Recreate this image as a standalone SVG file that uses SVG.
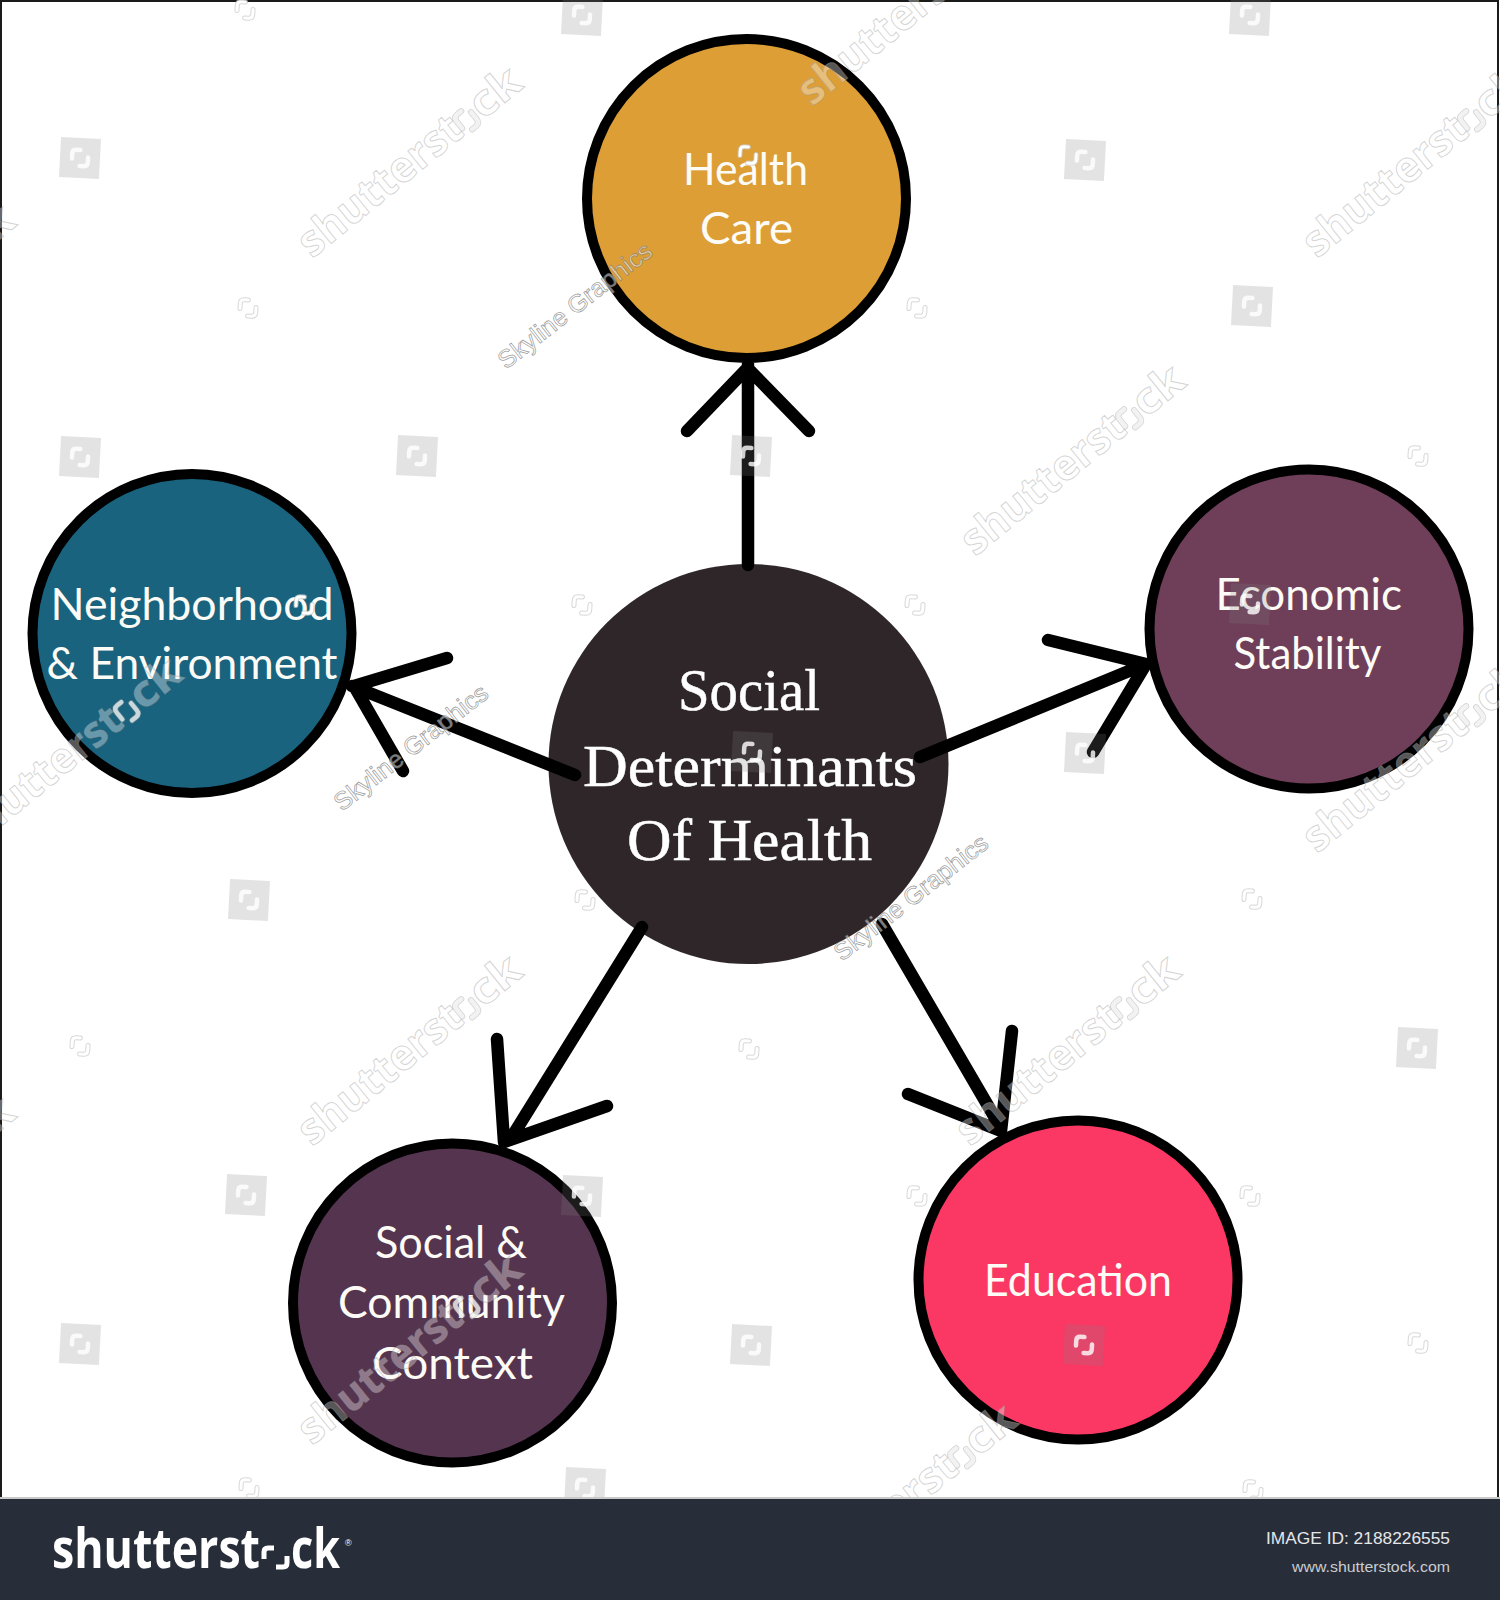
<svg xmlns="http://www.w3.org/2000/svg" width="1500" height="1600" viewBox="0 0 1500 1600">
<style>
.ring{stroke:#000;stroke-width:10}
.lbl{font-family:Lato,"Noto Sans","Liberation Sans",sans-serif;font-size:45px;fill:#fdfbf6;text-anchor:start}
.ctr{font-family:"Liberation Serif","Times New Roman",serif;font-size:60px;fill:#fff;text-anchor:start;stroke:#fff;stroke-width:.5}
.cn{fill:none;stroke:#000;stroke-width:12.5;stroke-linecap:round;stroke-linejoin:round}
.wm{font-family:"Open Sans","Liberation Sans",sans-serif;font-weight:700;font-size:43px;fill:#fff;fill-opacity:.34;stroke:#999;stroke-opacity:.42;stroke-width:1}
.wm2{font-family:"Liberation Sans",sans-serif;font-size:25px;fill:#fff;fill-opacity:.5;stroke:#777;stroke-opacity:.7;stroke-width:.8}
.logo{font-family:"Open Sans","Liberation Sans",sans-serif;font-weight:700;font-size:55px;fill:#fff}
.id1{font-family:"Liberation Sans",sans-serif;font-size:16.5px;fill:#e6e7ea}
.id2{font-family:"Liberation Sans",sans-serif;font-size:15px;fill:#c9ccd2}
</style>
<defs>
<path id="br" d="M-8 1V-4Q-8-8-4-8H0M8-1V4Q8 8 4 8H0" fill="none" stroke-linecap="round"/>
<g id="sq" transform="rotate(3)"><rect x="-20" y="-20" width="40" height="40" fill="#808080" fill-opacity=".22"/><use href="#br" stroke="#fff" stroke-opacity=".8" stroke-width="4.5"/></g>
<g id="ol" transform="rotate(3)"><use href="#br" stroke="#c9c9c9" stroke-opacity=".75" stroke-width="5"/><use href="#br" stroke="#fff" stroke-width="3"/></g>
<path id="wbr" d="M199-7V-16Q199-21 204-21H209M216-14V-5Q216 0 211 0H206" fill="none" stroke-linecap="round"/>
<g id="wmk">
<text class="wm" x="0" y="0" textLength="198" lengthAdjust="spacingAndGlyphs">shutterst</text>
<use href="#wbr" stroke="#999" stroke-opacity=".42" stroke-width="6"/>
<use href="#wbr" stroke="#fff" stroke-opacity=".7" stroke-width="4.5"/>
<text class="wm" x="220" y="0" textLength="54" lengthAdjust="spacingAndGlyphs">ck</text>
</g>
</defs>
<rect width="1500" height="1600" fill="#fff"/>
<path d="M1 1500V1H1498V1500" fill="none" stroke="#1a1a1a" stroke-width="2"/>

<g id="node-center"><circle cx="748.5" cy="764" r="200" fill="#2f262a"/></g>
<g id="node-health-care"><circle class="ring" cx="746.5" cy="198.5" r="159.5" fill="#dc9e35"/>
<text class="lbl" x="683" y="185" textLength="125" lengthAdjust="spacingAndGlyphs">Health</text>
<text class="lbl" x="700" y="244" textLength="93" lengthAdjust="spacingAndGlyphs">Care</text></g>
<g id="node-neighborhood"><circle class="ring" cx="192" cy="633.5" r="159.5" fill="#19637f"/>
<text class="lbl" x="50.5" y="620" textLength="283" lengthAdjust="spacingAndGlyphs">Neighborhood</text>
<text class="lbl" x="46.5" y="679" textLength="291" lengthAdjust="spacingAndGlyphs">&amp; Environment</text></g>
<g id="node-economic"><circle class="ring" cx="1309" cy="629" r="159.5" fill="#6f3f59"/>
<text class="lbl" x="1215.5" y="610" textLength="186.5" lengthAdjust="spacingAndGlyphs">Economic</text>
<text class="lbl" x="1233.5" y="669" textLength="148" lengthAdjust="spacingAndGlyphs">Stability</text></g>
<g id="node-social"><circle class="ring" cx="452.5" cy="1303" r="159.5" fill="#55344f"/>
<text class="lbl" x="375" y="1258" textLength="152" lengthAdjust="spacingAndGlyphs">Social &amp;</text>
<text class="lbl" x="338" y="1318" textLength="227" lengthAdjust="spacingAndGlyphs">Community</text>
<text class="lbl" x="372" y="1379" textLength="161" lengthAdjust="spacingAndGlyphs">Context</text></g>
<g id="node-education"><circle class="ring" cx="1078" cy="1280" r="159.5" fill="#fb3864"/>
<text class="lbl" x="984" y="1296" textLength="188" lengthAdjust="spacingAndGlyphs">Education</text></g>

<g id="connectors">
<path class="cn" d="M748 565V365M687 431L747.500 368L809 431"/>
<path class="cn" d="M575 775L352 686M447 658L354 686L403 771"/>
<path class="cn" d="M920 757L1146 664M1048 640L1146 664L1093 752"/>
<path class="cn" d="M642 927L510 1140M497 1039L504 1142L607 1106"/>
<path class="cn" d="M882 924L1001 1128M908 1094L1001 1131L1012 1031"/>
</g>

<g id="center-label">
<text class="ctr" x="678" y="710" textLength="142" lengthAdjust="spacingAndGlyphs">Social</text>
<text class="ctr" x="583" y="786" textLength="334" lengthAdjust="spacingAndGlyphs">Determinants</text>
<text class="ctr" x="627" y="860" textLength="245" lengthAdjust="spacingAndGlyphs">Of Health</text>
</g>

<g id="watermark">
<use href="#wmk" transform="translate(312 259) rotate(-39)"/>
<use href="#wmk" transform="translate(812 107) rotate(-39)"/>
<use href="#wmk" transform="translate(1317 259) rotate(-39)"/>
<use href="#wmk" transform="translate(975 557) rotate(-39)"/>
<use href="#wmk" transform="translate(-28 850) rotate(-39)"/>
<use href="#wmk" transform="translate(1317 854) rotate(-39)"/>
<use href="#wmk" transform="translate(312 1147) rotate(-39)"/>
<use href="#wmk" transform="translate(970 1147) rotate(-39)"/>
<use href="#wmk" transform="translate(312 1446) rotate(-39)"/>
<use href="#wmk" transform="translate(807 1596) rotate(-39)"/>
<use href="#wmk" transform="translate(-195 397) rotate(-39)"/>
<use href="#wmk" transform="translate(-195 1289) rotate(-39)"/>
<text class="wm2" transform="translate(506 370) rotate(-38)" textLength="188" lengthAdjust="spacingAndGlyphs">Skyline Graphics</text>
<text class="wm2" transform="translate(342 812) rotate(-38)" textLength="188" lengthAdjust="spacingAndGlyphs">Skyline Graphics</text>
<text class="wm2" transform="translate(842 962) rotate(-38)" textLength="188" lengthAdjust="spacingAndGlyphs">Skyline Graphics</text>
<use href="#sq" x="80" y="158"/><use href="#sq" x="1085" y="160"/><use href="#sq" x="417" y="456"/><use href="#sq" x="80" y="457"/><use href="#sq" x="751" y="456"/><use href="#sq" x="249" y="900"/><use href="#sq" x="1252" y="306"/><use href="#sq" x="1085" y="753"/><use href="#sq" x="582" y="15"/><use href="#sq" x="1250" y="15"/><use href="#sq" x="246" y="1195"/><use href="#sq" x="582" y="1196"/><use href="#sq" x="1417" y="1048"/><use href="#sq" x="80" y="1344"/><use href="#sq" x="751" y="1345"/><use href="#sq" x="1084" y="1345"/><use href="#sq" x="1250" y="604"/><use href="#sq" x="752" y="752"/><use href="#sq" x="585" y="1488"/>
<use href="#ol" x="248" y="308"/><use href="#ol" x="917" y="308"/><use href="#ol" x="1418" y="456"/><use href="#ol" x="582" y="605"/><use href="#ol" x="915" y="605"/><use href="#ol" x="585" y="900"/><use href="#ol" x="1252" y="899"/><use href="#ol" x="80" y="1046"/><use href="#ol" x="749" y="1049"/><use href="#ol" x="917" y="1196"/><use href="#ol" x="1250" y="1196"/><use href="#ol" x="1418" y="1343"/><use href="#ol" x="249" y="1488"/><use href="#ol" x="1253" y="1490"/><use href="#ol" x="748" y="155"/><use href="#ol" x="245" y="10"/><use href="#ol" x="304" y="605"/>
</g>

<rect id="footer-bar" x="0" y="1499" width="1500" height="101" fill="#282e39"/>
<rect x="0" y="1497" width="1500" height="2" fill="#c9c9c9"/>
<g id="footer">
<text class="logo" x="52" y="1568" textLength="208" lengthAdjust="spacingAndGlyphs">shutterst</text>
<path d="M264 1559V1552Q264 1548 268 1548H274M287 1556V1563Q287 1567 283 1567H276" fill="none" stroke="#fff" stroke-width="5"/>
<text class="logo" x="291" y="1568" textLength="49" lengthAdjust="spacingAndGlyphs">ck</text>
<text x="345" y="1546" font-family="Liberation Sans,sans-serif" font-size="9" fill="#fff">®</text>
<text class="id1" x="1266" y="1544" textLength="184" lengthAdjust="spacingAndGlyphs">IMAGE ID: 2188226555</text>
<text class="id2" x="1292" y="1572" textLength="158" lengthAdjust="spacingAndGlyphs">www.shutterstock.com</text>
</g>
</svg>
